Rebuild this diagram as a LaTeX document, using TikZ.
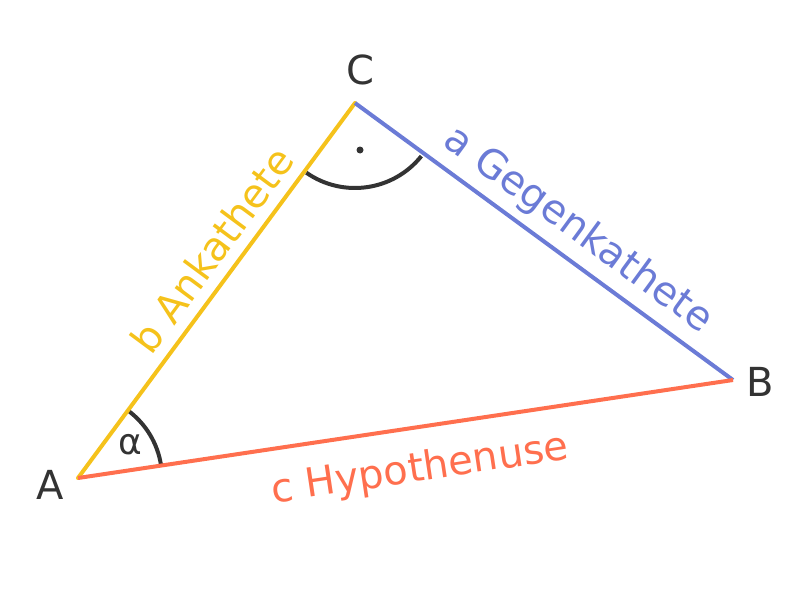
\documentclass[tikz,border=0pt]{standalone}
\usepackage{fontspec}
\setmainfont{DejaVu Sans}
\definecolor{yel}{HTML}{F5C21B}
\definecolor{blu}{HTML}{6B7BD6}
\definecolor{ora}{HTML}{FF6F4E}
\definecolor{drk}{HTML}{333333}
\begin{document}
\begin{tikzpicture}[x=1pt,y=-1pt,
  side/.style={line width=4pt},
  lbl/.style={font=\fontsize{40}{46}\selectfont},
  vtx/.style={font=\fontsize{40}{46}\selectfont,text=drk}]
\useasboundingbox (0,0) rectangle (800,602);
\coordinate (A) at (78,478);
\coordinate (C) at (355,103);
\coordinate (B) at (733,380);
\draw[drk,line width=4pt] ([shift={(38.7:85)}]C) arc[start angle=38.7,end angle=125,radius=85];
\fill[drk] (360,150) circle (3.5);
\draw[drk,line width=4pt] ([shift={(-53.6:84)}]A) arc[start angle=-53.6,end angle=-9,radius=84];
\draw[side,yel,line cap=round] (A) -- (C);
\draw[side,blu] (C) -- (B);
\draw[side,ora] (A) -- (B);
\node[vtx] (lc) at (360,70) {C};
\node[vtx] (lb) at (760,382) {B};
\node[vtx] (la) at (50,485) {A};
\node[font=\fontsize{36}{40}\selectfont,text=drk] (al) at (130,445) {α};
\node[lbl,text=yel,rotate=53.5] (tb) at (212,250) {b Ankathete};
\node[lbl,text=blu,rotate=-36.2] (ta) at (578,230) {a Gegenkathete};
\node[lbl,text=ora,rotate=8.5] (tc) at (420,470) {c Hypothenuse};
\end{tikzpicture}
\end{document}
